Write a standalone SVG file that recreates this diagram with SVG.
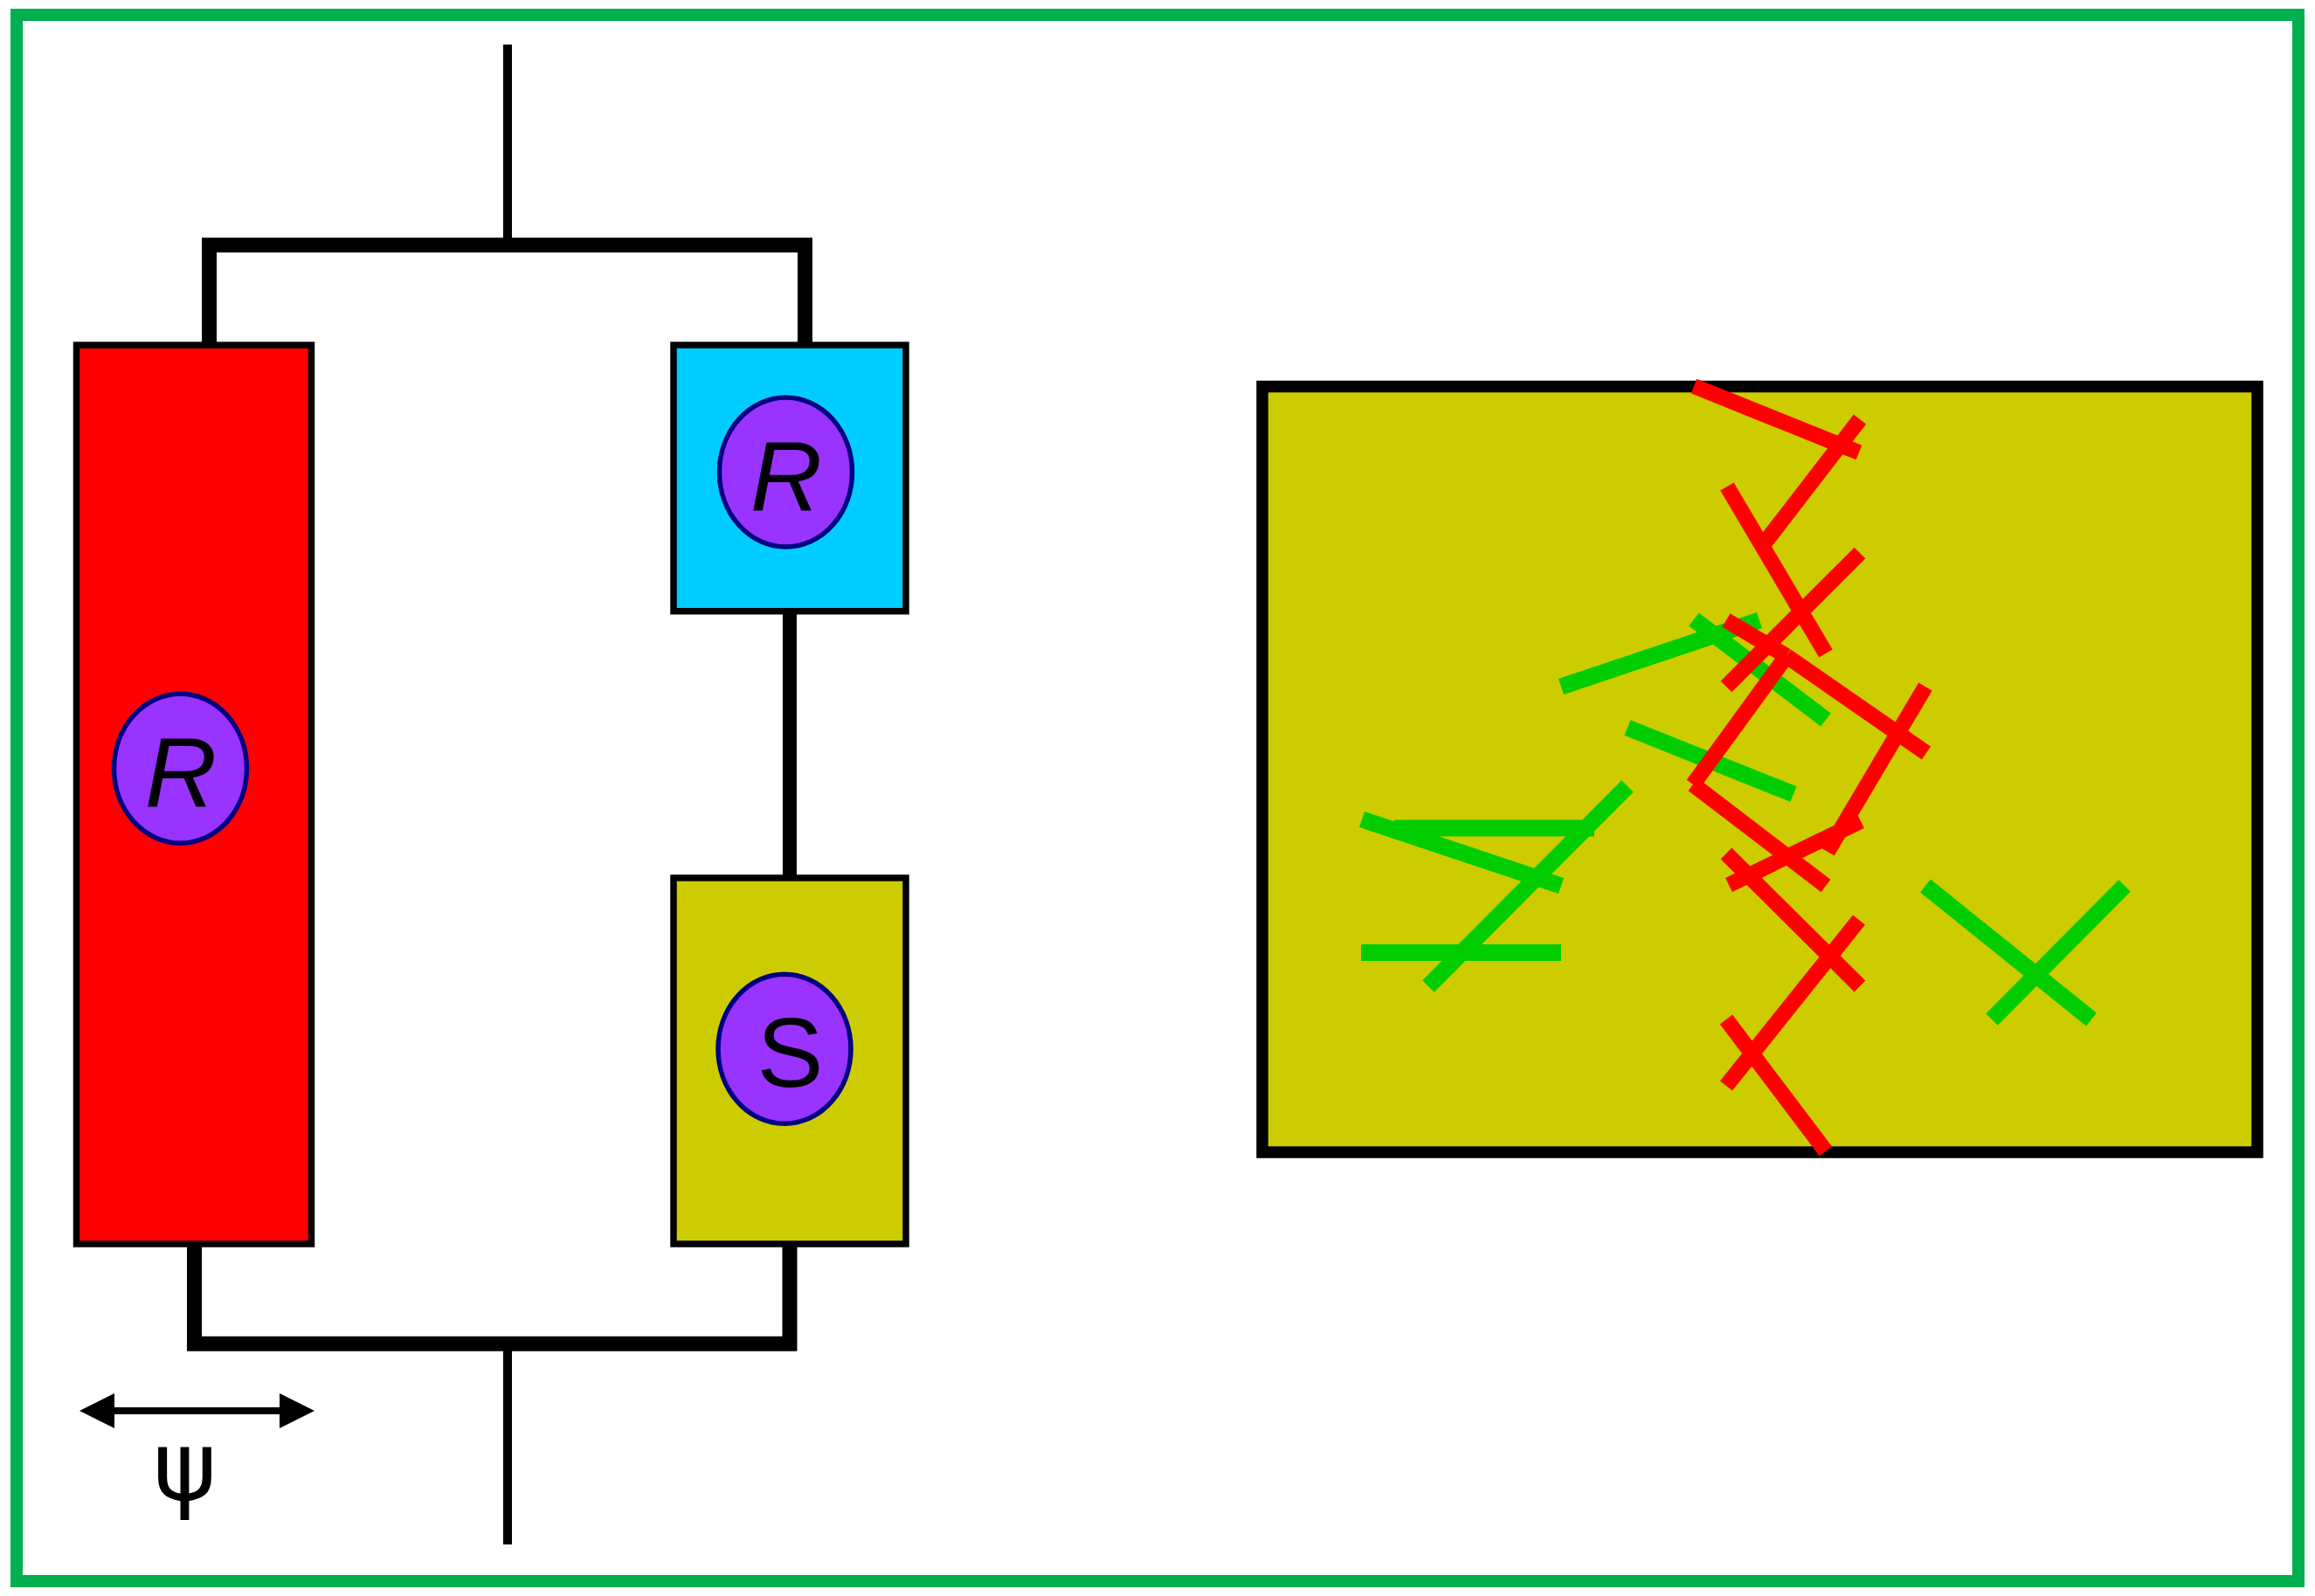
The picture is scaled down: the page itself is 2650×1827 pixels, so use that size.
<svg xmlns="http://www.w3.org/2000/svg" width="2650" height="1827" viewBox="0 0 2650 1827">
<style>
  .blk { fill: none; stroke: #000000; stroke-linejoin: miter; stroke-linecap: butt; }
  .node { stroke: #000000; stroke-width: 7.5; }
  .disc { fill: #9933FF; stroke: #000080; stroke-width: 5.5; }
  .lbl { font-family: "Liberation Sans", Arial, sans-serif; font-size: 114px; fill: #000000; text-anchor: middle; font-style: normal; }
  .it { font-style: italic; }
  .psi { font-family: "DejaVu Sans", "Liberation Sans", sans-serif; font-size: 111px; fill: #000000; text-anchor: middle; }
  .red { stroke: #FF0000; stroke-width: 18; stroke-linecap: butt; fill: none; }
  .grn { stroke: #00CC00; stroke-width: 19; stroke-linecap: butt; fill: none; }
</style>
<defs>
  <marker id="tri" viewBox="0 0 40 40" markerWidth="40" markerHeight="40" markerUnits="userSpaceOnUse" refX="0" refY="20" orient="auto-start-reverse">
    <path d="M0,0 L40,20 L0,40 Z" fill="#000000"/>
  </marker>
</defs>
<rect width="2650" height="1827" fill="#FFFFFF"/>
<rect id="frame" x="19" y="17" width="2612" height="1793" fill="none" stroke="#00B050" stroke-width="14"/>

<g id="connectors">
  <line class="blk" x1="581" y1="51" x2="581" y2="281" stroke-width="10"/>
  <path class="blk" d="M239.5,395 V280.5 H921.5 V395" stroke-width="17"/>
  <line class="blk" x1="904" y1="699" x2="904" y2="1005" stroke-width="16"/>
  <path class="blk" d="M222.5,1424 V1538.3 H904 V1424" stroke-width="17"/>
  <line class="blk" x1="581" y1="1538" x2="581" y2="1768" stroke-width="10"/>
</g>

<g id="node-red">
  <rect class="node" x="87.5" y="395" width="269" height="1029" fill="#FF0000"/>
  <ellipse class="disc" cx="206.5" cy="879.7" rx="76" ry="85.5"/>
  <text class="lbl it" x="207" y="923">R</text>
</g>

<g id="node-cyan">
  <rect class="node" x="771" y="395" width="266" height="304.7" fill="#00CCFF"/>
  <ellipse class="disc" cx="899.5" cy="540.5" rx="76" ry="85.5"/>
  <text class="lbl it" x="900" y="584">R</text>
</g>

<g id="node-olive">
  <rect class="node" x="771" y="1005" width="266" height="419" fill="#CCCC00"/>
  <ellipse class="disc" cx="898" cy="1200.8" rx="76" ry="85.5"/>
  <text class="lbl" x="904.5" y="1243.5">S</text>
</g>

<g id="width-arrow">
  <line x1="131" y1="1615" x2="320" y2="1615" stroke="#000000" stroke-width="8" marker-start="url(#tri)" marker-end="url(#tri)"/>
  <text class="psi" x="211.5" y="1717">ψ</text>
</g>

<g id="box">
  <rect x="1445" y="442.5" width="1139" height="876.5" fill="#CCCC00" stroke="#000000" stroke-width="13.5"/>
  <g id="green-sticks">
    <line class="grn" x1="1787" y1="786" x2="2014" y2="710"/>
    <line class="grn" x1="1939" y1="709" x2="2090" y2="824"/>
    <line class="grn" x1="1863" y1="833" x2="2053" y2="909"/>
    <line class="grn" x1="1863" y1="900" x2="1635" y2="1129"/>
    <line class="grn" x1="1559" y1="938" x2="1787" y2="1014"/>
    <line class="grn" x1="1596" y1="948" x2="1825" y2="948"/>
    <line class="grn" x1="1558" y1="1090.5" x2="1787" y2="1090.5"/>
    <line class="grn" x1="2204" y1="1014" x2="2394" y2="1167"/>
    <line class="grn" x1="2432" y1="1014" x2="2280" y2="1167"/>
  </g>
  <g id="red-sticks">
    <line class="red" x1="1939" y1="442" x2="2128" y2="518"/>
    <line class="red" x1="2129" y1="480" x2="2015" y2="628"/>
    <line class="red" x1="1977" y1="557" x2="2090" y2="748"/>
    <line class="red" x1="2129" y1="633" x2="1976" y2="786"/>
    <line class="red" x1="1976" y1="710" x2="2045" y2="751"/>
    <line class="red" x1="2045" y1="751" x2="2205" y2="862"/>
    <line class="red" x1="2045" y1="751" x2="1938" y2="898"/>
    <line class="red" x1="2204" y1="786" x2="2092" y2="975"/>
    <line class="red" x1="1938" y1="898" x2="2090" y2="1014"/>
    <line class="red" x1="2130" y1="940" x2="1979" y2="1013"/>
    <line class="red" x1="1976" y1="977" x2="2129" y2="1129"/>
    <line class="red" x1="2128" y1="1053" x2="1976" y2="1243"/>
    <line class="red" x1="1976" y1="1167" x2="2090" y2="1318"/>
  </g>
</g>
</svg>
